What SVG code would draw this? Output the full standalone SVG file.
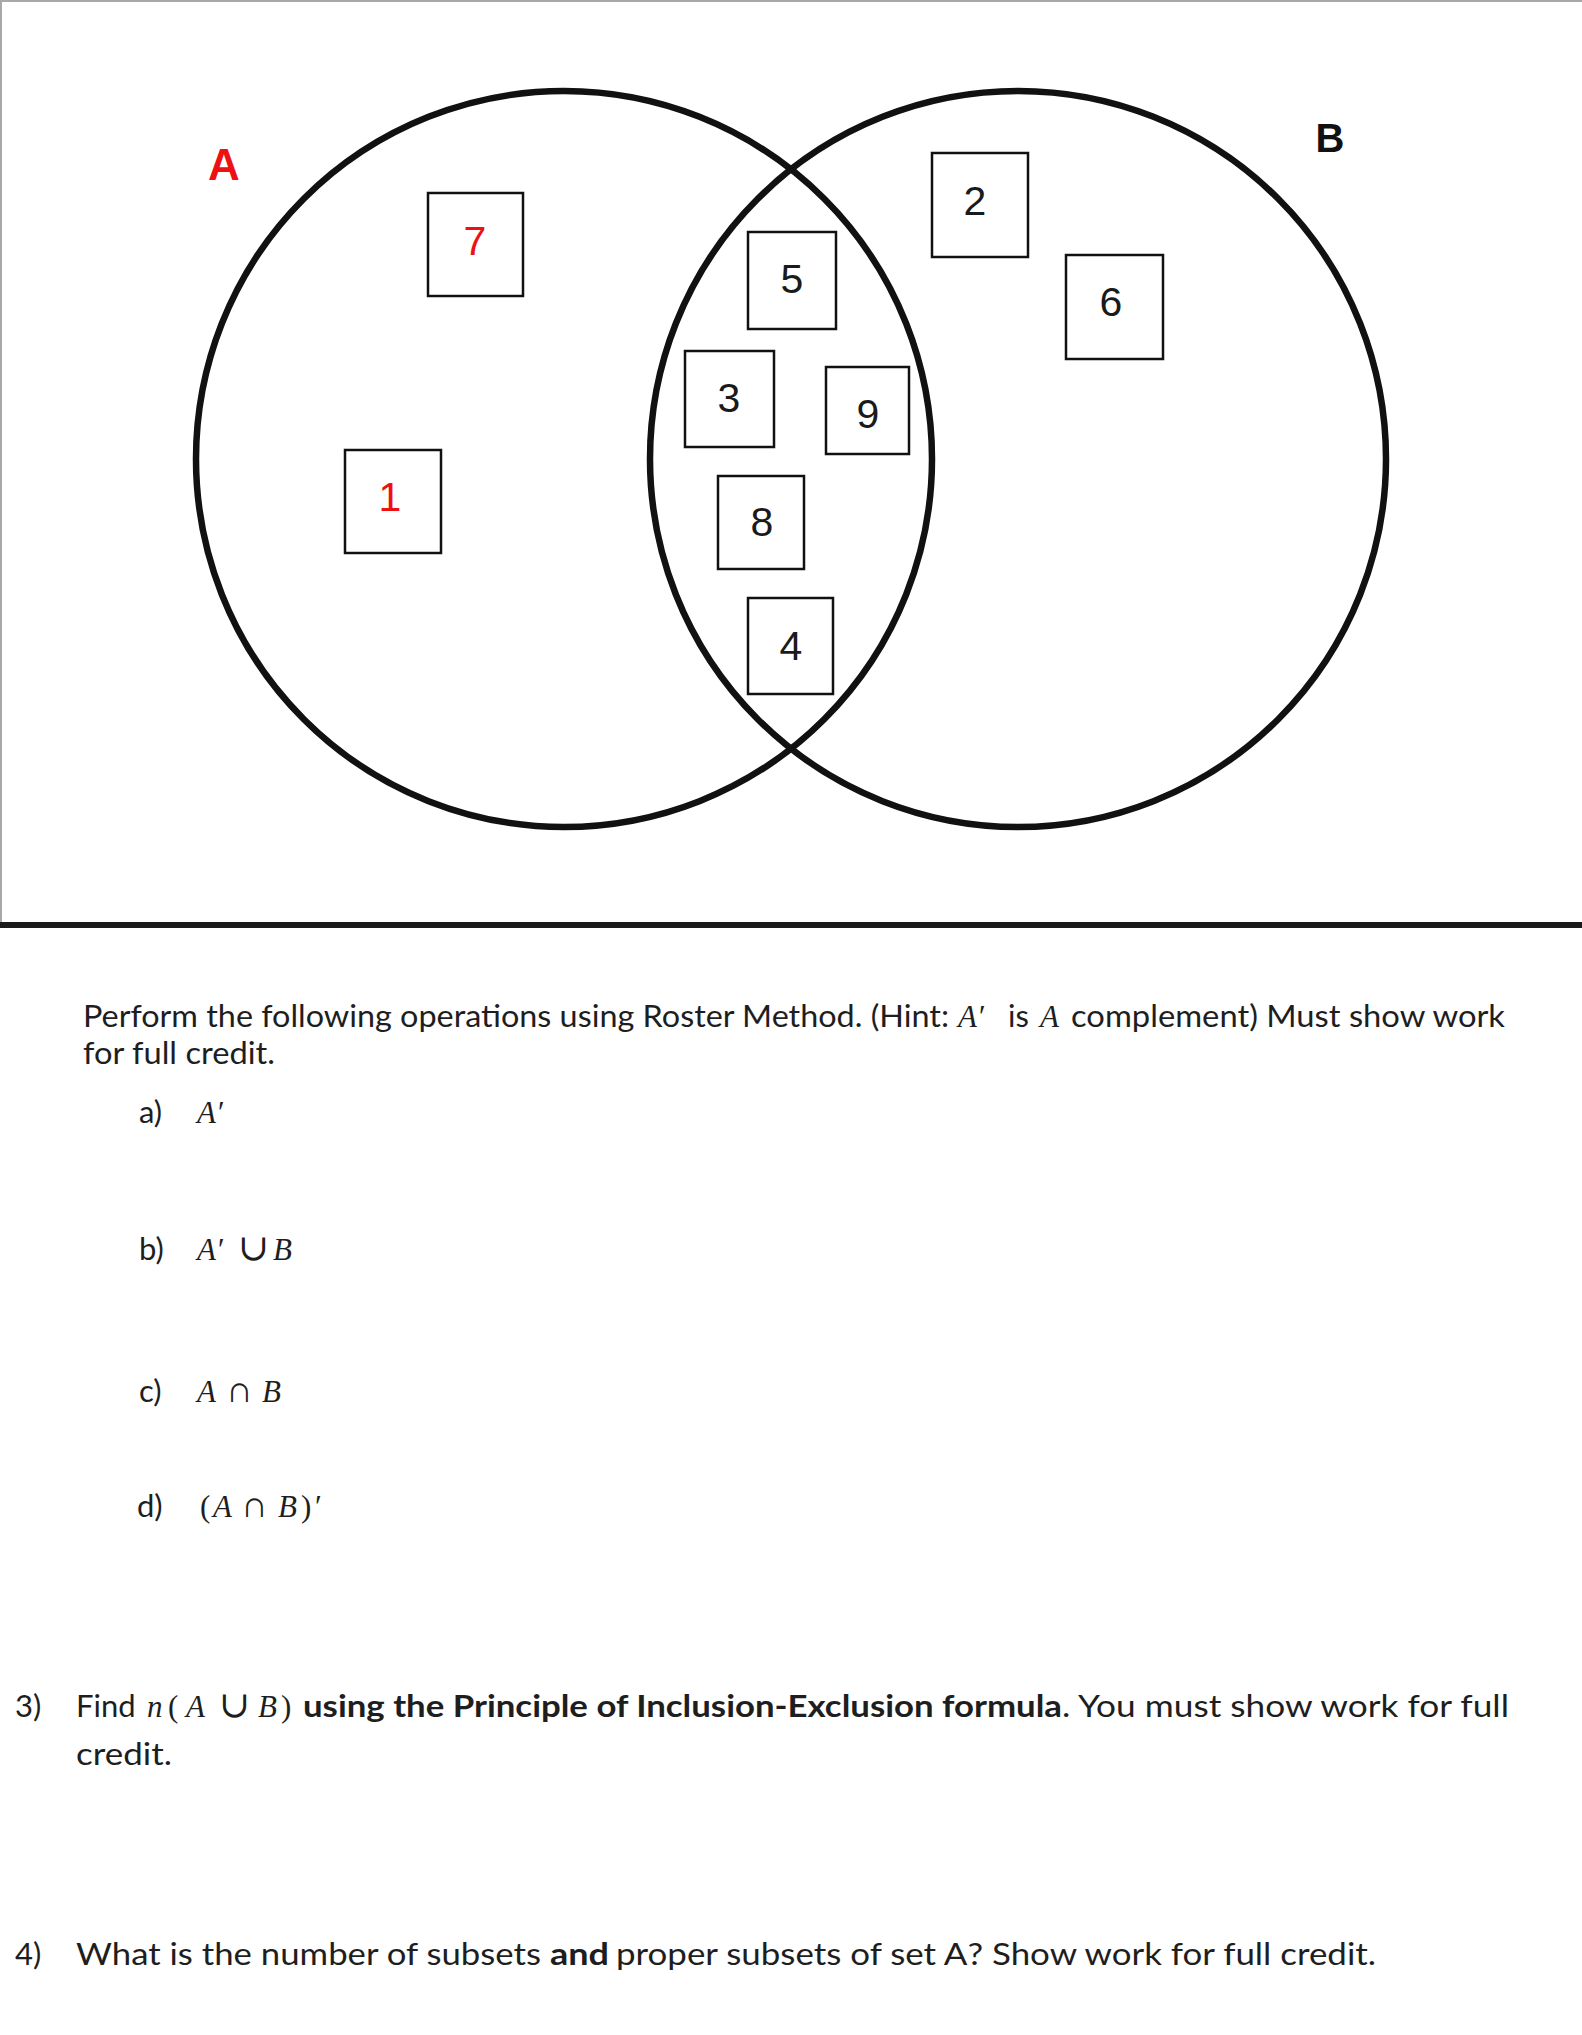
<svg xmlns="http://www.w3.org/2000/svg" width="1582" height="2035" viewBox="0 0 1582 2035">
<style>
.bg{fill:#ffffff}
.frame{stroke:#a8a8a8;stroke-width:2;fill:none}
.rule{stroke:#1a1a1a;stroke-width:6}
.set{fill:none;stroke:#111;stroke-width:6.5}
.box{fill:#fff;stroke:#111;stroke-width:2.5}
.num{font-family:"Liberation Sans",Arial,sans-serif;font-size:41px;text-anchor:middle;fill:#1a1a1a}
.red{fill:#ee1111}
.lbl{font-family:"Liberation Sans",Arial,sans-serif;font-weight:bold;text-anchor:middle}
.body{font-family:Lato,"Liberation Sans",sans-serif;font-size:31px;fill:#1e1e1e}
.b{font-weight:bold}
.math{font-family:"Liberation Serif","DejaVu Serif",serif;font-size:31px;fill:#1e1e1e}
.op{font-family:"Liberation Serif","DejaVu Serif",serif;font-size:37px;fill:#1e1e1e}
.it{font-style:italic}
</style>
<rect class="bg" x="0" y="0" width="1582" height="2035"/>
<line class="frame" x1="0" y1="1" x2="1582" y2="1"/>
<line class="frame" x1="1" y1="0" x2="1" y2="922"/>
<line class="rule" x1="0" y1="925" x2="1582" y2="925"/>

<g id="set-a">
<circle class="set" cx="564" cy="459" r="368"/>
<text class="lbl" x="224" y="180" font-size="44" fill="#ee1111">A</text>
</g>
<g id="set-b">
<circle class="set" cx="1018" cy="459" r="368"/>
<text class="lbl" x="1330" y="152" font-size="40" fill="#111">B</text>
</g>

<g id="node-7"><rect class="box" x="428" y="193" width="95" height="103"/><text class="num red" x="475" y="255">7</text></g>
<g id="node-1"><rect class="box" x="345" y="450" width="96" height="103"/><text class="num red" x="390" y="511">1</text></g>
<g id="node-5"><rect class="box" x="748" y="232" width="88" height="97"/><text class="num" x="792" y="293">5</text></g>
<g id="node-3"><rect class="box" x="685" y="351" width="89" height="96"/><text class="num" x="729" y="412">3</text></g>
<g id="node-9"><rect class="box" x="826" y="367" width="83" height="87"/><text class="num" x="868" y="428">9</text></g>
<g id="node-2"><rect class="box" x="932" y="153" width="96" height="104"/><text class="num" x="975" y="215">2</text></g>
<g id="node-6"><rect class="box" x="1066" y="255" width="97" height="104"/><text class="num" x="1111" y="316">6</text></g>
<g id="node-8"><rect class="box" x="718" y="476" width="86" height="93"/><text class="num" x="762" y="536">8</text></g>
<g id="node-4"><rect class="box" x="748" y="598" width="85" height="96"/><text class="num" x="791" y="660">4</text></g>

<g id="question-2">
<text class="body" x="83" y="1027" textLength="866" lengthAdjust="spacingAndGlyphs">Perform the following operations using Roster Method. (Hint:</text>
<text class="math it" x="958" y="1027" font-size="34">A′</text>
<text class="body" x="1008" y="1027">is</text>
<text class="math it" x="1040" y="1027">A</text>
<text class="body" x="1071" y="1027" textLength="434" lengthAdjust="spacingAndGlyphs">complement) Must show work</text>
<text class="body" x="83" y="1064" textLength="192" lengthAdjust="spacingAndGlyphs">for full credit.</text>

<text class="body" x="139" y="1123">a)</text>
<text class="math it" x="197" y="1123" font-size="33">A′</text>

<text class="body" x="139" y="1260">b)</text>
<text class="math it" x="197" y="1260" font-size="33">A′</text>
<text class="op" x="238" y="1260">∪</text>
<text class="math it" x="273" y="1260">B</text>

<text class="body" x="139" y="1402">c)</text>
<text class="math it" x="197" y="1402">A</text>
<text class="op" x="226" y="1402">∩</text>
<text class="math it" x="262" y="1402">B</text>

<text class="body" x="137" y="1517">d)</text>
<text class="math" x="200" y="1517">(</text>
<text class="math it" x="213" y="1517">A</text>
<text class="op" x="241" y="1517">∩</text>
<text class="math it" x="278" y="1517">B</text>
<text class="math" x="301" y="1517">)</text>
<text class="math" x="315" y="1517">′</text>
</g>

<g id="question-3">
<text class="body" x="15" y="1717">3)</text>
<text class="body" x="76" y="1717">Find</text>
<text class="math it" x="147" y="1717">n</text>
<text class="math" x="168" y="1717">(</text>
<text class="math it" x="186" y="1717">A</text>
<text class="op" x="219" y="1717">∪</text>
<text class="math it" x="258" y="1717">B</text>
<text class="math" x="281" y="1717">)</text>
<text class="body b" x="303" y="1717" textLength="759" lengthAdjust="spacingAndGlyphs">using the Principle of Inclusion-Exclusion formula</text>
<text class="body" x="1062" y="1717" textLength="447" lengthAdjust="spacingAndGlyphs">. You must show work for full</text>
<text class="body" x="76" y="1765" textLength="96" lengthAdjust="spacingAndGlyphs">credit.</text>
</g>

<g id="question-4">
<text class="body" x="15" y="1965">4)</text>
<text class="body" x="76" y="1965" textLength="465" lengthAdjust="spacingAndGlyphs">What is the number of subsets</text>
<text class="body b" x="550" y="1965" textLength="59" lengthAdjust="spacingAndGlyphs">and</text>
<text class="body" x="616" y="1965" textLength="760" lengthAdjust="spacingAndGlyphs">proper subsets of set A? Show work for full credit.</text>
</g>
</svg>
